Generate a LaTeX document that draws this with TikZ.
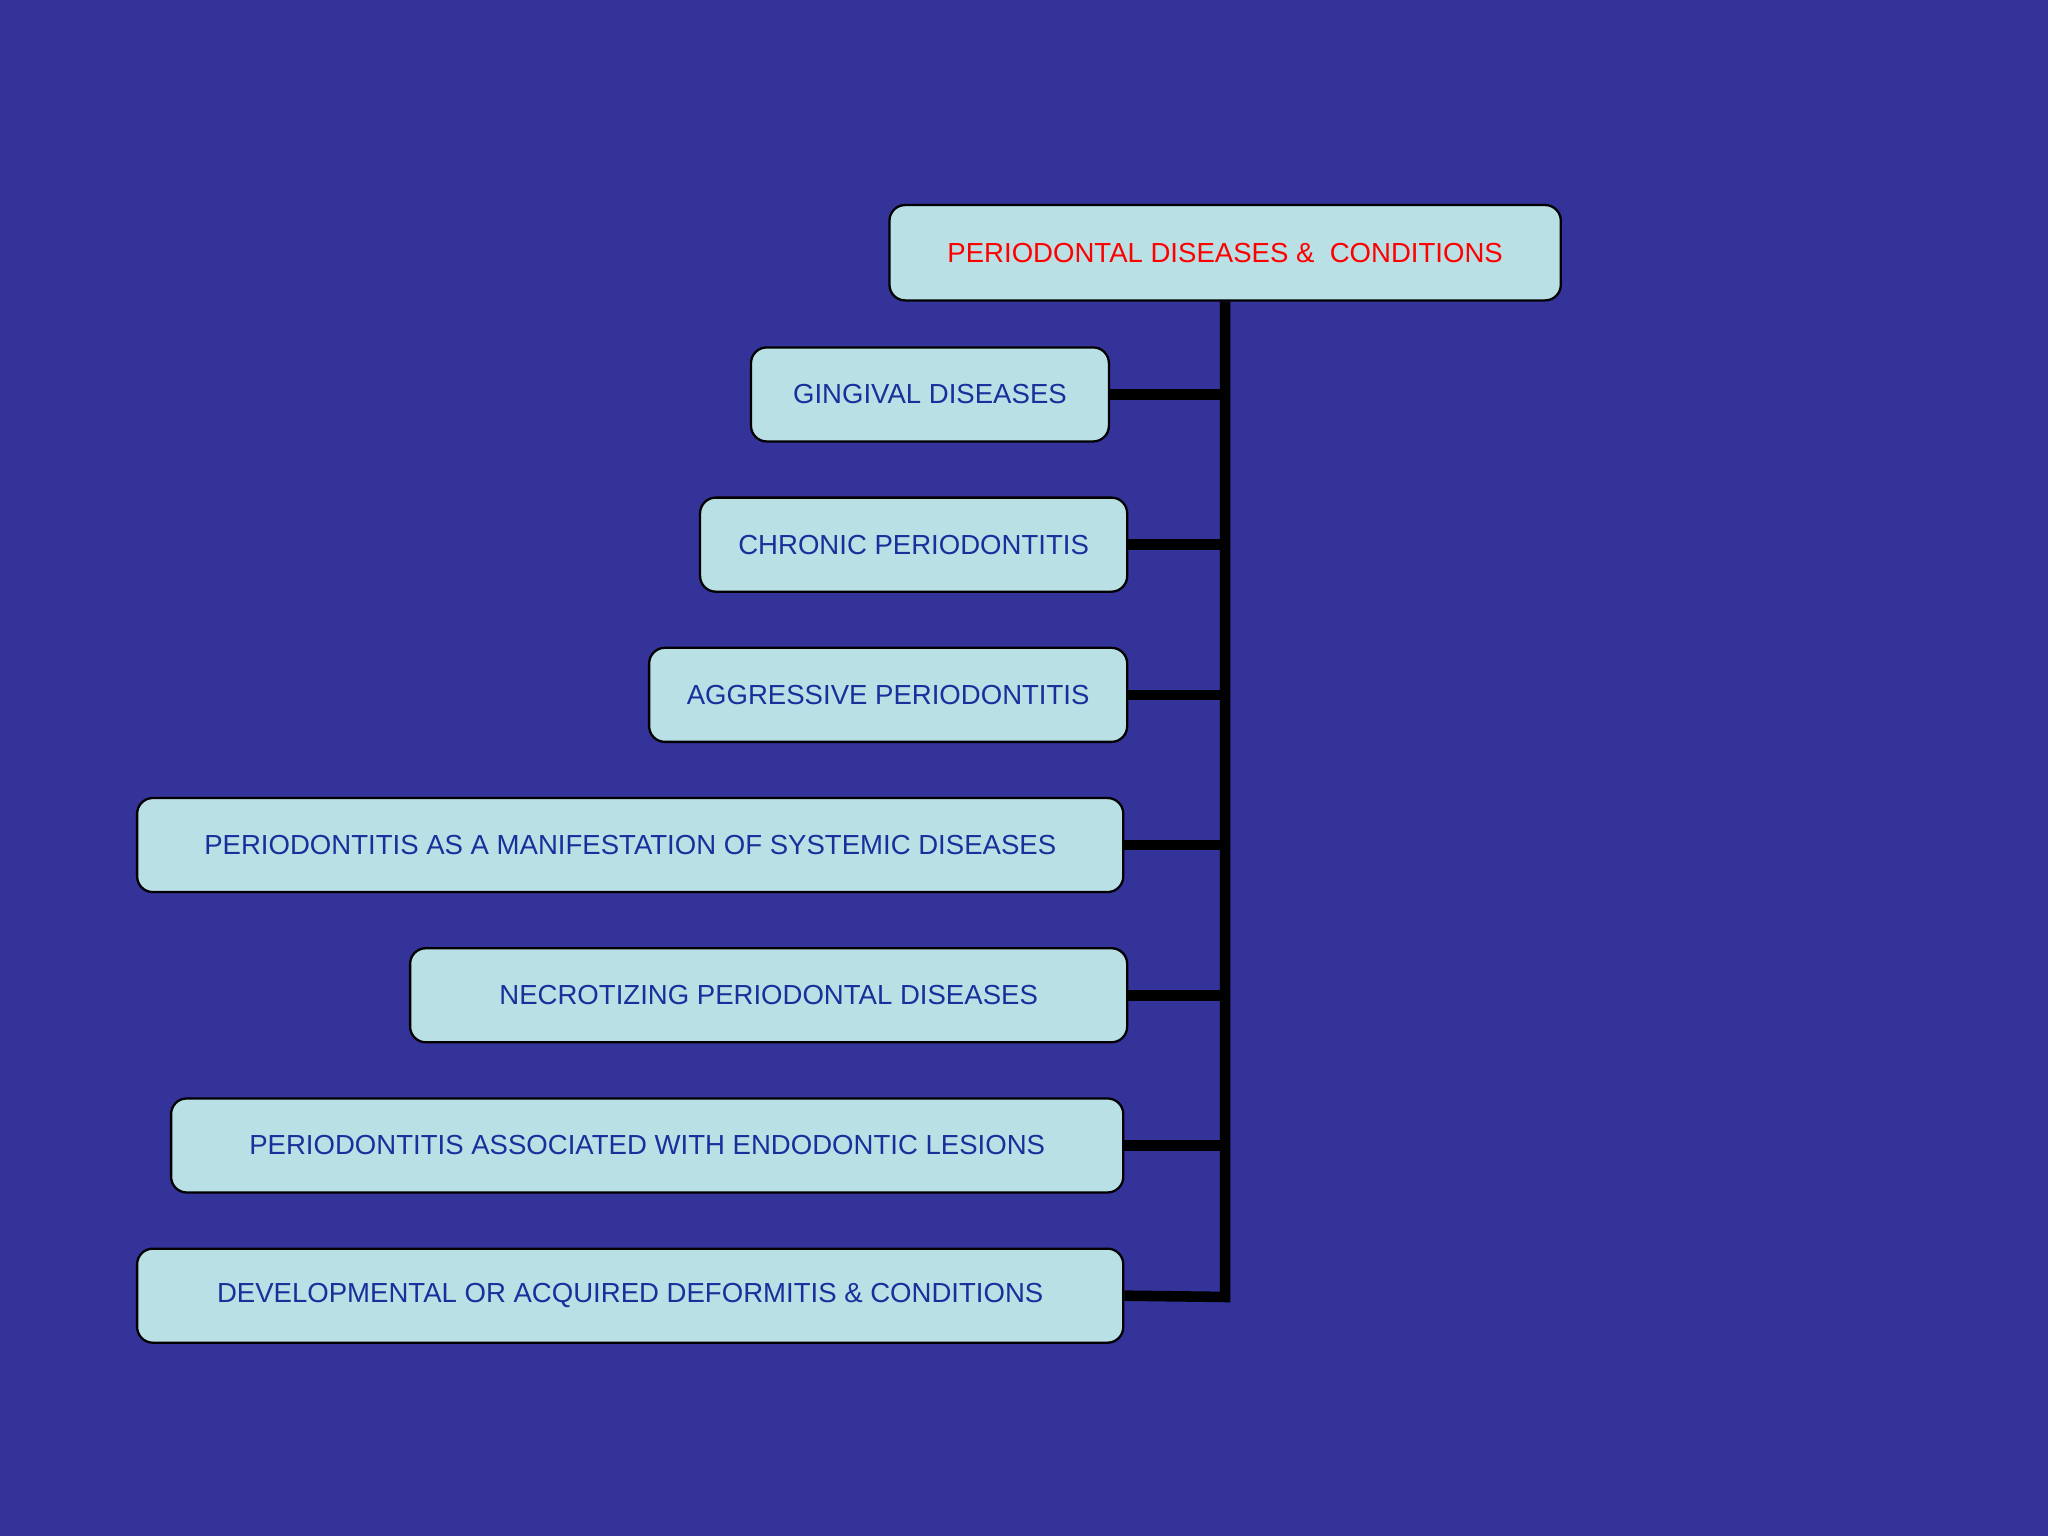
\documentclass[tikz,border=0pt]{standalone}
\usepackage{fontspec}
\setmainfont{Liberation Sans}
\definecolor{bg}{HTML}{343399}
\definecolor{boxf}{HTML}{B9E0E4}
\definecolor{txt}{HTML}{1A2F9C}
\begin{document}
\begin{tikzpicture}[x=0.01cm,y=-0.01cm,
  box/.style={draw=black,fill=boxf,rounded corners=1.2mm,line width=0.5pt,inner sep=0pt,
    font=\fontsize{6pt}{7pt}\selectfont,text=txt},
  conn/.style={line width=2.3pt,draw=black}]
\fill[bg] (0,0) rectangle (1568,1176);
\newcommand{\bx}[6]{\node[box,minimum width={(#4-#2)*0.01cm},minimum height={(#5-#3)*0.01cm}] (#1) at ({(#2+#4)/2},{(#3+#5)/2}) {#6};}
\bx{root}{681}{157}{1195}{230}{\textcolor{red}{PERIODONTAL DISEASES \&\ \ CONDITIONS}}
\bx{g}{575}{266}{849}{338}{GINGIVAL DISEASES}
\bx{c}{536}{381}{863}{453}{CHRONIC PERIODONTITIS}
\bx{a}{497}{496}{863}{568}{AGGRESSIVE PERIODONTITIS}
\bx{s}{105}{611}{860}{683}{PERIODONTITIS AS A MANIFESTATION OF SYSTEMIC DISEASES}
\bx{n}{314}{726}{863}{798}{NECROTIZING PERIODONTAL DISEASES}
\bx{e}{131}{841}{860}{913}{PERIODONTITIS ASSOCIATED WITH ENDODONTIC LESIONS}
\bx{d}{105}{956}{860}{1028}{DEVELOPMENTAL OR ACQUIRED DEFORMITIS \& CONDITIONS}
\coordinate (bot) at (938,993);
\draw[conn] (root.south) -- (bot) -- (d.east);
\foreach \n in {g,c,a,s,n,e} \draw[conn] (\n.east) -- (\n.east -| bot);
\end{tikzpicture}
\end{document}
